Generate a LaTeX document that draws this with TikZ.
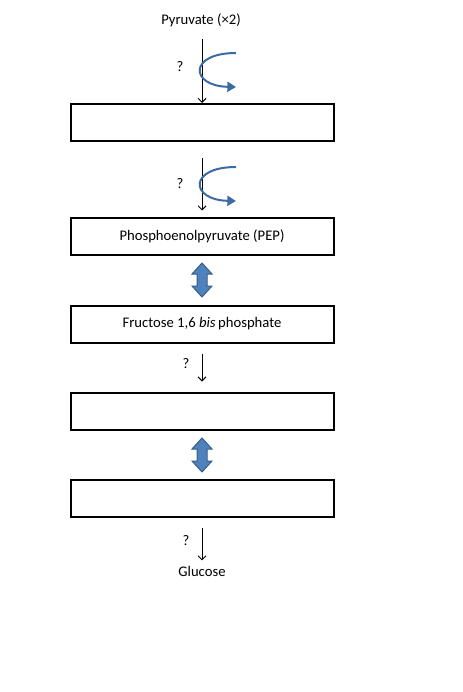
\documentclass[tikz,border=0pt]{standalone}
\usepackage{fontspec}
\setmainfont{Carlito}
\usetikzlibrary{arrows.meta}
\definecolor{stepblue}{HTML}{4F81BD}
\definecolor{stepedge}{HTML}{385D8A}
\definecolor{curve}{HTML}{3B6BA5}

\begin{document}
\begin{tikzpicture}[x=0.75pt,y=-0.75pt,
  font=\fontsize{11}{13}\selectfont,
  box/.style={draw, line width=1.5pt, minimum width=197.25pt, minimum height=27.75pt, inner sep=0pt},
  flow/.style={-{Straight Barb[length=3pt,width=6pt]}, line width=0.75pt},
  sidearc/.style={-{Triangle[length=6.5pt,width=7.5pt]}, curve, line width=1.5pt},
  updown/.style={fill=stepblue, draw=stepedge, line width=0.75pt, line join=miter}]
\useasboundingbox (0,0) rectangle (462,692);
% helper: a blue up-down arrow centred at (x,y)
\newcommand{\revarrow}[2]{%
  \begin{scope}[shift={(#1,#2)}]
    \draw[updown] (0,-17) -- (10,-6) -- (5,-6) -- (5,6) -- (10,6) -- (0,17)
      -- (-10,6) -- (-5,6) -- (-5,-6) -- (-10,-6) -- cycle;
  \end{scope}
}
% metabolite boxes, top to bottom
\node (pyr) at (201,20) {Pyruvate (×2)};
\node[box] (box1) at (202,122.5) {};
\node[box] (pep) at (202,236) {Phosphoenolpyruvate (PEP)};
\node[box] (fbp) at (202,324) {Fructose 1,6 \textit{bis}\,phosphate};
\node[box] (box4) at (202,411) {};
\node[box] (box5) at (202,498.5) {};
\node (glc) at (202,571) {Glucose};
% unknown steps
\node (q1) at (180,67) {?};
\node (q2) at (180,184) {?};
\node (q3) at (186,364) {?};
\node (q4) at (186,541) {?};
\coordinate (top) at (202,39);
\draw[flow] (top) -- (box1.north);
\draw[flow, shorten <=12pt, shorten >=4.5pt] (box1) -- (pep);
\draw[flow, shorten <=7.5pt, shorten >=7.5pt] (fbp) -- (box4);
\draw[flow, shorten <=7.5pt, shorten >=0.5pt] (box5) -- (glc);
% side reactions
\foreach \y in {53,167}{
  \draw[sidearc] (236,\y) .. controls (188,\y) and (190,\y+33) .. (236,\y+34);
}
% reversible steps
\revarrow{202}{280}
\revarrow{202}{455}
\end{tikzpicture}
\end{document}
